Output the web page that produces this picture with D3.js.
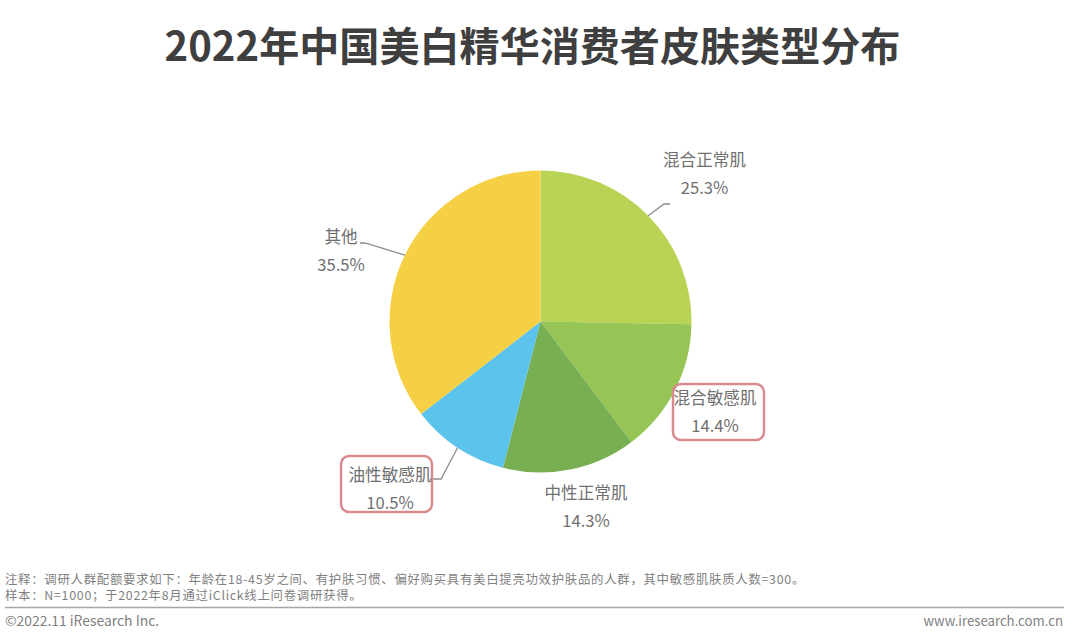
<!DOCTYPE html>
<html>
<head>
<meta charset="utf-8">
<script src="https://cdn.jsdelivr.net/npm/d3@7"></script>
<style>
html, body { margin: 0; padding: 0; background: #fff; }
text { font-family: "Noto Sans CJK SC", "Open Sans", sans-serif; }
</style>
</head>
<body>
<div id="chart"></div>
<script>
// values, clockwise from 12 o'clock
var names = ['混合正常肌', '混合敏感肌', '中性正常肌', '油性敏感肌', '其他']
var shares = [25.3, 14.4, 14.3, 10.5, 35.5]
var colors = ['#b9d354', '#97c555', '#77af52', '#5bc3ec', '#f6d044']

// where the labels sit, same order as names
var labelX = [704.5, 715, 586, 390, 341]
var labelY = [160, 398, 493, 475, 237]
// red highlight boxes [left, top]
var boxes = [[673, 384], [341, 456]]
// elbow of the leader lines, null = no leader
var elbows = [[664, 204, 670, 204], null, null, [441, 479, 432, 479], [365, 243, 360, 243]]

var noteLines = [
    '注释：调研人群配额要求如下：年龄在18-45岁之间、有护肤习惯、偏好购买具有美白提亮功效护肤品的人群，其中敏感肌肤质人数=300。',
    '样本：N=1000；于2022年8月通过iClick线上问卷调研获得。'
]

var width = 1080, height = 644
var svg = d3.select('#chart').append('svg')
    .attr('width', width).attr('height', height)
    .style('display', 'block')

svg.append('text')
    .attr('x', 532.5).attr('y', 61)
    .attr('text-anchor', 'middle')
    .attr('font-size', 40.1).attr('font-weight', 700)
    .attr('fill', '#3f3f3f')
    .text('2022年中国美白精华消费者皮肤类型分布')

var radius = 151
var pieG = svg.append('g').attr('transform', 'translate(540.5,321.5)')
var pie = d3.pie().sort(null)(shares)
var arc = d3.arc().innerRadius(0).outerRadius(radius)

pieG.selectAll('path').data(pie).enter().append('path')
    .attr('d', arc)
    .attr('fill', (d, i) => colors[i])

// leader lines start on the rim of the slice
var rim = d3.arc().innerRadius(radius).outerRadius(radius)
var line = d3.line()
pie.forEach(function(d, i) {
    if (!elbows[i]) return
    var c = rim.centroid(d)
    var e = elbows[i]
    svg.append('path')
        .attr('d', line([[c[0] + 540.5, c[1] + 321.5], [e[0], e[1]], [e[2], e[3]]]))
        .attr('fill', 'none')
        .attr('stroke', '#8c8c8c')
        .attr('stroke-width', 1.3)
})

svg.selectAll('rect.box').data(boxes).enter().append('rect')
    .attr('class', 'box')
    .attr('x', d => d[0]).attr('y', d => d[1])
    .attr('width', 91).attr('height', 56)
    .attr('rx', 8)
    .attr('fill', 'none')
    .attr('stroke', '#d98a8f')
    .attr('stroke-width', 2.5)

names.forEach(function(name, i) {
    var g = svg.append('g').attr('transform', 'translate(' + labelX[i] + ',' + labelY[i] + ')')
    g.append('text')
        .attr('text-anchor', 'middle')
        .attr('y', 5.5)
        .attr('font-size', 16.6)
        .attr('fill', '#6f6f6f')
        .text(name)
    g.append('text')
        .attr('text-anchor', 'middle')
        .attr('y', 33.5)
        .attr('font-size', 16.6)
        .attr('fill', '#6f6f6f')
        .text(d3.format('.1f')(shares[i]) + '%')
})

// smaller size with some tracking, so the two tight lines stay apart
svg.selectAll('text.note').data(noteLines).enter().append('text')
    .attr('class', 'note')
    .attr('x', 5)
    .attr('y', (d, i) => 583.5 + i * 16)
    .attr('font-size', 12.4)
    .attr('letter-spacing', 0.72)
    .attr('fill', '#7f7f7f')
    .text(d => d)

svg.append('line')
    .attr('x1', 5).attr('x2', 1064)
    .attr('y1', 607.5).attr('y2', 607.5)
    .attr('stroke', '#a6a6a6')
    .attr('stroke-width', 1.5)

svg.append('text')
    .attr('x', 5).attr('y', 626)
    .attr('font-size', 13.9)
    .attr('fill', '#7f7f7f')
    .text('©2022.11 iResearch Inc.')

svg.append('text')
    .attr('x', 1063).attr('y', 626)
    .attr('text-anchor', 'end')
    .attr('font-size', 13.2)
    .attr('fill', '#7f7f7f')
    .text('www.iresearch.com.cn')
</script>
</body>
</html>
